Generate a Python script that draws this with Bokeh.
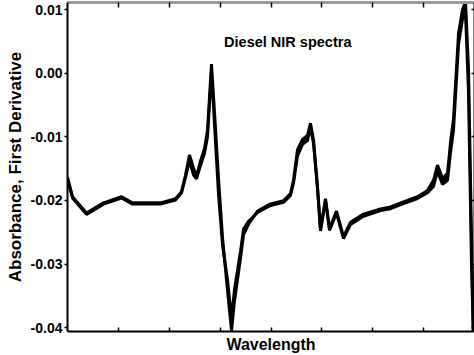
from bokeh.plotting import figure
from bokeh.models import LinearAxis, NumeralTickFormatter, FixedTicker, Label, Range1d, CustomJSTickFormatter
from bokeh.embed import file_html
from bokeh.resources import INLINE

# Wavelength (nm) and two representative first-derivative spectra (envelope of the band)
wavelength = [750, 759.8, 787.3, 820.8, 856.1, 877.8, 932.8, 962.3, 974.1, 981.9,
              989.8, 997.7, 1003.6, 1011.4, 1019.3, 1025.2, 1033.0, 1038.9, 1046.8, 1054.7,
              1064.5, 1072.4, 1078.3, 1090.1, 1096.0, 1105.8, 1123.5, 1149.0, 1174.6, 1188.3,
              1194.2, 1202.1, 1211.9, 1221.7, 1227.6, 1233.5, 1241.4, 1247.3, 1257.1, 1265.0,
              1278.7, 1292.5, 1306.3, 1331.8, 1365.2, 1384.9, 1410.4, 1438.0, 1457.6, 1469.4,
              1477.3, 1487.1, 1497.0, 1502.8, 1508.7, 1518.6, 1526.4, 1532.3, 1538.2, 1544.1,
              1548.0]
spectrum_a = [-0.01637, -0.01942, -0.02199, -0.02038, -0.01942, -0.02038, -0.02038, -0.01974, -0.01862, -0.01605,
              -0.01284, -0.01493, -0.01621, -0.01380, -0.01188, -0.00899, 0.00144, -0.00610, -0.01653, -0.02584,
              -0.03419, -0.04045, -0.03579, -0.02905, -0.02536, -0.02375, -0.02167, -0.02054, -0.02006, -0.01894,
              -0.01685, -0.01204, -0.01043, -0.00979, -0.00786, -0.01043, -0.01782, -0.02456, -0.01974, -0.02440,
              -0.02167, -0.02568, -0.02343, -0.02215, -0.02135, -0.02103, -0.02022, -0.01942, -0.01846, -0.01685,
              -0.01444, -0.01653, -0.01573, -0.01091, -0.00722, 0.00626, 0.00995, 0.01123, 0.00080, -0.02584,
              -0.04220]
spectrum_b = [-0.01657, -0.01962, -0.02219, -0.02058, -0.01962, -0.02058, -0.02058, -0.01994, -0.01882, -0.01640,
              -0.01380, -0.01600, -0.01660, -0.01450, -0.01260, -0.01000, 0.00030, -0.00800, -0.01900, -0.02700,
              -0.03250, -0.03850, -0.03400, -0.02800, -0.02450, -0.02330, -0.02190, -0.02080, -0.02030, -0.01920,
              -0.01730, -0.01300, -0.01120, -0.01060, -0.00850, -0.01100, -0.01820, -0.02480, -0.02000, -0.02470,
              -0.02200, -0.02600, -0.02380, -0.02250, -0.02160, -0.02130, -0.02050, -0.01970, -0.01880, -0.01780,
              -0.01540, -0.01750, -0.01680, -0.01250, -0.00900, 0.00450, 0.00850, 0.00950, -0.00300, -0.03000,
              -0.04220]
y_ticks = [-0.04, -0.03, -0.02, -0.01, 0.00, 0.01]
x_ticks = [850, 950, 1050, 1150, 1250, 1350, 1450]

FONT = "Liberation Sans"
BLANK = CustomJSTickFormatter(code="return ''")

p = figure(width=474, height=355, output_backend="svg", toolbar_location=None,
           x_range=Range1d(750, 1550), y_range=Range1d(-0.0406, 0.0111),
           min_border_left=67, min_border_right=0, min_border_top=2, min_border_bottom=0,
           x_axis_location=None, y_axis_location=None)
p.grid.visible = False
p.outline_line_color = None
p.background_fill_color = "white"
p.border_fill_color = "white"

lo = [min(a, b) for a, b in zip(spectrum_a, spectrum_b)]
hi = [max(a, b) for a, b in zip(spectrum_a, spectrum_b)]
p.varea(x=wavelength, y1=lo, y2=hi, fill_color="black")
p.line(wavelength, spectrum_a, line_color="black", line_width=3)
p.line(wavelength, spectrum_b, line_color="black", line_width=3)

# left axis
yl = LinearAxis(ticker=FixedTicker(ticks=y_ticks), formatter=NumeralTickFormatter(format="0.00"),
                axis_label="Absorbance, First Derivative")
yl.axis_line_width = 2
yl.major_tick_in = 0
yl.major_tick_out = 3
yl.major_tick_line_width = 1.5
yl.minor_tick_line_color = None
yl.major_label_text_font = FONT
yl.major_label_text_font_style = "bold"
yl.major_label_text_font_size = "14px"
yl.major_label_text_color = "black"
yl.major_label_standoff = 2
yl.axis_label_text_font = FONT
yl.axis_label_text_font_style = "bold"
yl.axis_label_text_font_size = "17px"
yl.axis_label_text_color = "black"
yl.axis_label_standoff = 3
p.add_layout(yl, "left")

# bottom axis
xb = LinearAxis(ticker=FixedTicker(ticks=x_ticks), formatter=BLANK, axis_label="Wavelength")
xb.axis_line_width = 2
xb.major_tick_in = 4
xb.major_tick_out = 0
xb.major_tick_line_width = 1.5
xb.minor_tick_line_color = None
xb.major_label_standoff = 0
xb.axis_label_text_font = FONT
xb.axis_label_text_font_style = "bold"
xb.axis_label_text_font_size = "16px"
xb.axis_label_text_color = "black"
xb.axis_label_standoff = 4
p.add_layout(xb, "below")

# top axis (grey line, inward ticks)
xt = LinearAxis(ticker=FixedTicker(ticks=x_ticks), formatter=BLANK)
xt.axis_line_color = "#9a9a9a"
xt.axis_line_width = 3
xt.major_tick_in = 5
xt.major_tick_out = 0
xt.major_tick_line_width = 1.5
xt.minor_tick_line_color = None
xt.major_label_standoff = 0
p.add_layout(xt, "above")

# right axis
yr = LinearAxis(ticker=FixedTicker(ticks=y_ticks), formatter=BLANK)
yr.axis_line_width = 2
yr.major_tick_in = 3
yr.major_tick_out = 0
yr.major_tick_line_width = 1.5
yr.minor_tick_line_color = None
yr.major_label_standoff = 0
p.add_layout(yr, "right")

title = Label(x=1183, y=0.0049, text="Diesel NIR spectra", text_font=FONT,
              text_font_style="bold", text_font_size="14.5px", text_color="black",
              text_align="center", text_baseline="middle")
p.add_layout(title)

open("out.html", "w").write(file_html(p, INLINE))
